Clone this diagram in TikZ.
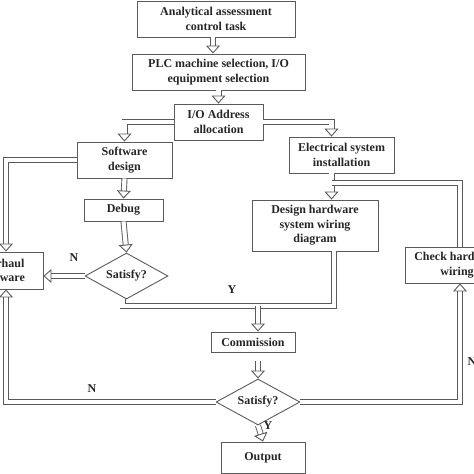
\documentclass[tikz,border=0pt]{standalone}
\usepackage{fontspec}
\setmainfont{Liberation Serif}
\usetikzlibrary{shapes.geometric,arrows.meta,calc}
\definecolor{linegray}{HTML}{5A5A5A}
\begin{document}
\begin{tikzpicture}[x=1pt, y=-1pt,
		box/.style={draw=linegray, line width=0.9pt, align=center, inner sep=1pt,
			font=\fontsize{12}{14.5}\selectfont\bfseries, text=black!85},
		cond/.style={box, diamond, aspect=1.8},
		dbl/.style={draw=linegray, line width=0.9pt, double=white, double distance=4.2pt},
		fat/.style={dbl, -{Triangle[open, length=8pt, width=14pt]}},
		lbl/.style={font=\fontsize{12}{14}\selectfont\bfseries, text=black!85}]
		\useasboundingbox (0,0) rectangle (474,474);
		\clip (0,0) rectangle (474,474);

		\node[box, minimum width=158, minimum height=36] (task) at (216,19) {Analytical assessment\\control task};
		\node[box, minimum width=173, minimum height=36] (plc) at (218.5,72) {PLC machine selection, I/O\\equipment selection};
		\node[box, minimum width=89, minimum height=36] (ioa) at (218.5,122) {I/O Address\\allocation};
		\node[box, minimum width=95, minimum height=36] (soft) at (124.5,160) {Software\\design};
		\node[box, minimum width=105, minimum height=36] (elec) at (341.5,155) {Electrical system\\installation};
		\node[box, minimum width=79, minimum height=22] (debug) at (123.5,210) {Debug};
		\node[box, minimum width=126, minimum height=51] (design) at (315,225.5) {Design hardware\\system wiring\\diagram};
		\node[cond, minimum width=83, minimum height=46] (sat1) at (126.5,276) {Satisfy?};
		\node[box, minimum width=86, minimum height=37] (over) at (0,270.5) {Overhaul\\hardware};
		\node[box, minimum width=104, minimum height=36] (check) at (457,265) {Check hardware\\wiring};
		\node[box, minimum width=84, minimum height=20] (comm) at (253,342) {Commission};
		\node[cond, minimum width=84, minimum height=46] (sat2) at (258,402) {Satisfy?};
		\node[box, minimum width=84, minimum height=31] (out) at (263,457.5) {Output};

		\coordinate (merge) at (258,306);
		\coordinate (branch) at (332,183);

		\draw[fat] ([xshift=-3]task.south) -- ([xshift=-3]task.south |- plc.north);
		\draw[fat] (plc.south) -- (plc.south |- ioa.north);
		\draw[fat] (ioa.west) -| (soft.north);
		\draw[fat] (ioa.east) -| ([xshift=-10]elec.north);
		\draw[fat] (soft.west) -| ([xshift=6]over.north);
		\draw[fat] (soft.south) -- (debug.north);
		\draw[fat] (debug.south) -- (sat1.north);
		\draw[fat] (sat1.west) -- (sat1.west -| over.east);
		\draw[dbl] ([xshift=-4]sat1.south) |- (merge) -| ([xshift=19]design.south);
		\draw[fat] (merge) -- (merge |- comm.north);
		\draw[fat, shorten <=9pt] (comm.south -| sat2.north) -- (sat2.north);
		\draw[fat] (sat2.west) -| ([xshift=6]over.south);
		\draw[fat] (sat2.east) -| ([xshift=3]check.south);
		\draw[fat] ([xshift=-10]elec.south) -- ([xshift=-10]elec.south |- design.north);
		\draw[dbl] (branch) -| ([xshift=3]check.north);
		\draw[fat] (sat2.south) -- (out.north);

		\node[lbl] (n1) at (74,258) {N};
		\node[lbl] (y1) at (232,290) {Y};
		\node[lbl] (n2) at (92,389) {N};
		\node[lbl] (y2) at (268,426) {Y};
		\node[lbl] (n3) at (472,362) {N};
	\end{tikzpicture}
\end{document}
